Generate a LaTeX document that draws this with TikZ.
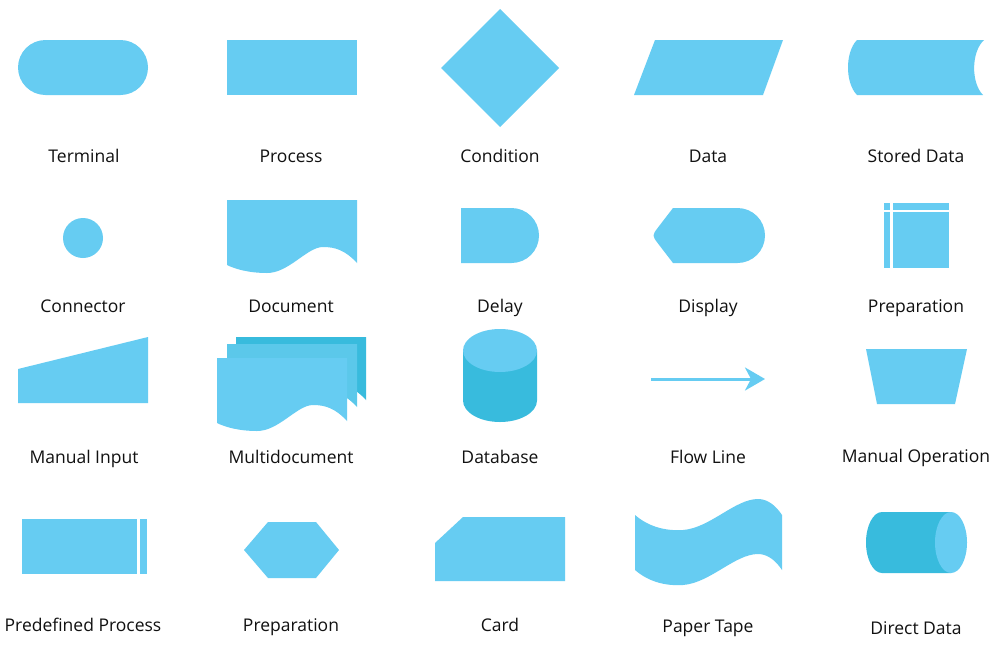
\documentclass[tikz,border=0pt]{standalone}
\usepackage{fontspec}
\setmainfont{Open Sans}
\usetikzlibrary{arrows.meta}
\definecolor{lb}{HTML}{66CCF2}
\definecolor{db}{HTML}{38BBDD}
\definecolor{mb}{HTML}{5BC8EA}
\definecolor{txt}{HTML}{111111}
\newcommand{\mydocpath}{(0,0) -- (130,0) -- (130,63) .. controls (118,50) and (108,47) .. (96,47) .. controls (80,47) and (62,73) .. (40,73) .. controls (22,73) and (8,69) .. (0,65) -- cycle}
\begin{document}
\begin{tikzpicture}[x=1pt,y=-1pt,
  lbl/.style={anchor=base,font=\fontsize{17.5}{20}\selectfont,text=txt,inner sep=0pt},
  shp/.style={fill=lb,draw=none},
  dark/.style={fill=db,draw=none},
  mid/.style={fill=mb,draw=none}]
\useasboundingbox (0,0) rectangle (1000,667);
\fill[white] (0,0) rectangle (1000,667);

% ---------- Row 1 ----------
\fill[shp, rounded corners=27.5] (18,40) rectangle (148,95);
\fill[shp] (227,40) rectangle (357,95);
\fill[shp] (500,9) -- (559,68) -- (500,127) -- (441,68) -- cycle;
\fill[shp] (655,40) -- (783,40) -- (763,95) -- (634,95) -- cycle;
\fill[shp] (857,40) -- (984,40) .. controls (971,52) and (971,83) .. (983,95) -- (857,95) .. controls (845,83) and (845,52) .. (857,40) -- cycle;

\node[lbl] (lterminal) at (84,162) {Terminal};
\node[lbl] (lprocess) at (291,162) {Process};
\node[lbl] (lcondition) at (500,162) {Condition};
\node[lbl] (ldata) at (708,162) {Data};
\node[lbl] (lstored) at (916,162) {Stored Data};

% ---------- Row 2 ----------
\fill[shp] (83,238) circle[radius=20];
\begin{scope}[shift={(227,200)}]
  \fill[shp] \mydocpath;
\end{scope}
\fill[shp] (461,208) -- (511.5,208) arc[start angle=-90,end angle=90,radius=27.5] -- (461,263) -- cycle;
\fill[shp] (673,208) -- (737.5,208) arc[start angle=-90,end angle=90,radius=27.5] -- (673,263) -- (658,243.5) .. controls (652,235.5) .. (658,227.5) -- cycle;
\fill[shp] (884,203) rectangle (949,268);
\draw[white, line width=2.5] (891.5,203) -- (891.5,268);
\draw[white, line width=2.5] (884,211) -- (949,211);

\node[lbl] (lconnector) at (83,312) {Connector};
\node[lbl] (ldocument) at (291,312) {Document};
\node[lbl] (ldelay) at (500,312) {Delay};
\node[lbl] (ldisplay) at (708,312) {Display};
\node[lbl] (lprep) at (916,312) {Preparation};

% ---------- Row 3 ----------
\fill[shp] (18,369) -- (148,337) -- (148,403) -- (18,403) -- cycle;
\begin{scope}[shift={(236,337)}]
  \fill[dark] \mydocpath;
\end{scope}
\begin{scope}[shift={(227,344)}]
  \fill[mid] \mydocpath;
\end{scope}
\begin{scope}[shift={(217,358)}]
  \fill[shp] \mydocpath;
\end{scope}
\fill[dark] (463,350.5) -- (463,400.5) arc[start angle=180,end angle=0,x radius=37,y radius=21.5] -- (537,350.5) -- cycle;
\fill[shp] (500,350.5) ellipse[x radius=37,y radius=21.5];
\coordinate (fa) at (651,379);
\coordinate (fb) at (765,379);
\draw[lb, line width=3, -{Stealth[length=20pt,width=23pt,inset=6pt]}] (fa) -- (fb);
\fill[shp] (866,349) -- (967,349) -- (955,404) -- (877,404) -- cycle;

\node[lbl] (lmanin) at (84,463) {Manual Input};
\node[lbl] (lmulti) at (291,463) {Multidocument};
\node[lbl] (ldb) at (500,463) {Database};
\node[lbl] (lflow) at (708,463) {Flow Line};
\node[lbl] (lmanop) at (916,462) {Manual Operation};

% ---------- Row 4 ----------
\fill[shp] (22,519) rectangle (137,574);
\fill[shp] (140,519) rectangle (147,574);
\fill[shp] (244,550) -- (268,522) -- (316,522) -- (339,550) -- (316,578) -- (268,578) -- cycle;
\fill[shp] (463,517) -- (565,517) -- (565,581) -- (435,581) -- (435,543) -- cycle;
\fill[shp] (635,515) .. controls (650,528) and (668,531) .. (683,530) .. controls (710,528) and (735,499) .. (758,499) .. controls (768,499) and (776,506) .. (782,515)
  -- (782,570) .. controls (776,561) and (768,554) .. (758,554) .. controls (735,554) and (710,583) .. (683,585) .. controls (668,586) and (650,583) .. (635,570) -- cycle;
\fill[dark] (951,512) -- (882,512) arc[start angle=-90,end angle=-270,x radius=16,y radius=30.5] -- (951,573) -- cycle;
\fill[shp] (951,542.5) ellipse[x radius=16,y radius=30.5];

\node[lbl] (lpredef) at (83,631) {Predefined Process};
\node[lbl] (lprep2) at (291,631) {Preparation};
\node[lbl] (lcard) at (500,631) {Card};
\node[lbl] (ltape) at (708,632) {Paper Tape};
\node[lbl] (ldirect) at (916,634) {Direct Data};
\end{tikzpicture}
\end{document}
